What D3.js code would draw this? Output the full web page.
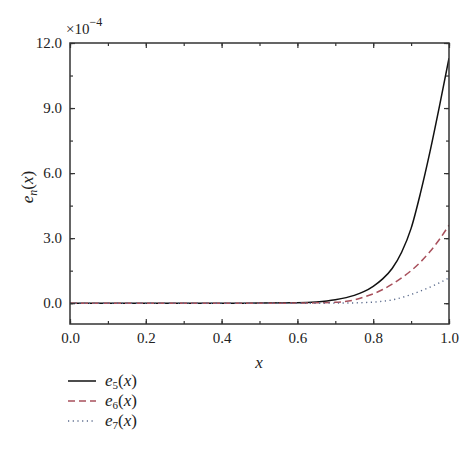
<!DOCTYPE html>
<html>
<head>
<meta charset="utf-8">
<script src="https://cdn.jsdelivr.net/npm/d3@7"></script>
<style>
  body { margin: 0; background: #fff; }
  svg { display: block; }
  text { font-family: "Liberation Serif", "DejaVu Serif", serif; fill: #222; }
</style>
</head>
<body>
<svg id="chart" width="474" height="449"></svg>
<script>
// Data (values in units of 1e-4)
const xValues = [0.0, 0.1, 0.2, 0.3, 0.4, 0.5, 0.6, 0.65, 0.7, 0.75, 0.775, 0.8, 0.825, 0.85, 0.875, 0.9, 0.925, 0.95, 0.975, 1.0];
const e5 = [0, 0, 0, 0, 0, 0.005, 0.02, 0.06, 0.16, 0.36, 0.53, 0.78, 1.12, 1.6, 2.35, 3.45, 5.1, 7.0, 9.1, 11.3];
const e6 = [0, 0, 0, 0, 0, 0, 0.005, 0.015, 0.04, 0.15, 0.28, 0.43, 0.63, 0.88, 1.17, 1.5, 1.9, 2.38, 2.95, 3.6];
const e7 = [0, 0, 0, 0, 0, 0, 0, 0, 0.003, 0.012, 0.028, 0.05, 0.09, 0.15, 0.26, 0.4, 0.56, 0.74, 0.94, 1.17];
const seriesNames = ["5", "6", "7"];
const xTicks = [0.0, 0.2, 0.4, 0.6, 0.8, 1.0];
const yTicks = [0.0, 3.0, 6.0, 9.0, 12.0];

const svg = d3.select("#chart");
const mLeft = 70, mRight = 449, mTop = 43, mBottom = 324;
const x = d3.scaleLinear().domain([0, 1]).range([mLeft, mRight]);
const y = d3.scaleLinear().domain([-0.96, 12]).range([mBottom, mTop]);

const series = [
  { name: seriesNames[0], values: e5, color: "#111", dash: null, width: 1.5 },
  { name: seriesNames[1], values: e6, color: "#a8505c", dash: "7,4", width: 1.5 },
  { name: seriesNames[2], values: e7, color: "#5a6a8c", dash: "1.2,3.5", width: 1.4 }
];

const line = d3.line().x(d => x(d[0])).y(d => y(d[1])).curve(d3.curveMonotoneX);
svg.append("clipPath").attr("id", "clip").append("rect")
  .attr("x", mLeft).attr("y", mTop).attr("width", mRight - mLeft).attr("height", mBottom - mTop);

series.forEach(s => {
  svg.append("path")
    .datum(xValues.map((v, i) => [v, s.values[i]]))
    .attr("d", line)
    .attr("fill", "none")
    .attr("stroke", s.color)
    .attr("stroke-width", s.width)
    .attr("stroke-dasharray", s.dash)
    .attr("clip-path", "url(#clip)");
});

// Axes (ticks pointing inward)
const xMinor = d3.range(0, 1.0001, 0.1);
const yMinor = d3.range(0, 12.0001, 1.5);
const fmt = d3.format(".1f");

const axB = d3.axisBottom(x).tickValues(xTicks).tickFormat(fmt).tickSizeInner(-5).tickSizeOuter(0).tickPadding(8);
svg.append("g").attr("transform", `translate(0,${mBottom})`).call(axB);
const axBm = d3.axisBottom(x).tickValues(xMinor).tickFormat("").tickSizeInner(-3).tickSizeOuter(0);
svg.append("g").attr("transform", `translate(0,${mBottom})`).call(axBm);

const axT = d3.axisTop(x).tickValues(xMinor).tickFormat("").tickSizeInner(-3).tickSizeOuter(0);
svg.append("g").attr("transform", `translate(0,${mTop})`).call(axT);
svg.append("g").attr("transform", `translate(0,${mTop})`).call(d3.axisTop(x).tickValues(xTicks).tickFormat("").tickSizeInner(-5).tickSizeOuter(0));

const axL = d3.axisLeft(y).tickValues(yTicks).tickFormat(fmt).tickSizeInner(-5).tickSizeOuter(0).tickPadding(8);
svg.append("g").attr("transform", `translate(${mLeft},0)`).call(axL);
svg.append("g").attr("transform", `translate(${mLeft},0)`).call(d3.axisLeft(y).tickValues(yMinor).tickFormat("").tickSizeInner(-3).tickSizeOuter(0));

svg.append("g").attr("transform", `translate(${mRight},0)`).call(d3.axisRight(y).tickValues(yMinor).tickFormat("").tickSizeInner(-3).tickSizeOuter(0));
svg.append("g").attr("transform", `translate(${mRight},0)`).call(d3.axisRight(y).tickValues(yTicks).tickFormat("").tickSizeInner(-5).tickSizeOuter(0));

svg.selectAll(".domain").attr("stroke", "none");
svg.selectAll(".tick line").attr("stroke", "#333").attr("stroke-width", 1.2);
svg.selectAll(".tick text").attr("font-size", 15).attr("fill", "#222")
  .attr("font-family", "'Liberation Serif', serif");

// Frame
svg.append("rect").attr("x", mLeft).attr("y", mTop).attr("width", mRight - mLeft).attr("height", mBottom - mTop)
  .attr("fill", "none").attr("stroke", "#333").attr("stroke-width", 1.5);

// Exponent label
const ex = svg.append("text").attr("x", 66).attr("y", 34).attr("font-size", 15);
ex.append("tspan").text("×10");
ex.append("tspan").attr("dy", -8).attr("font-size", 12).text("−4");

// Axis labels
svg.append("text").attr("x", 259).attr("y", 368).attr("text-anchor", "middle")
  .attr("font-size", 17).attr("font-style", "italic").text("x");

const yl = svg.append("text").attr("transform", "translate(33,187) rotate(-90)")
  .attr("text-anchor", "middle").attr("font-size", 17);
yl.append("tspan").attr("font-style", "italic").text("e");
yl.append("tspan").attr("font-style", "italic").attr("font-size", 12).attr("dy", 4).text("n");
yl.append("tspan").attr("dy", -4).text("(");
yl.append("tspan").attr("font-style", "italic").text("x");
yl.append("tspan").text(")");

// Legend
const legRows = [381, 401, 421];
series.forEach((s, i) => {
  svg.append("line").attr("x1", 68).attr("x2", 96).attr("y1", legRows[i]).attr("y2", legRows[i])
    .attr("stroke", s.color).attr("stroke-width", s.width).attr("stroke-dasharray", s.dash);
  const t = svg.append("text").attr("x", 105).attr("y", legRows[i] + 5).attr("font-size", 17);
  t.append("tspan").attr("font-style", "italic").text("e");
  t.append("tspan").attr("font-size", 11).attr("dy", 3).text(s.name);
  t.append("tspan").attr("dy", -3).text("(");
  t.append("tspan").attr("font-style", "italic").text("x");
  t.append("tspan").text(")");
});
</script>
</body>
</html>
